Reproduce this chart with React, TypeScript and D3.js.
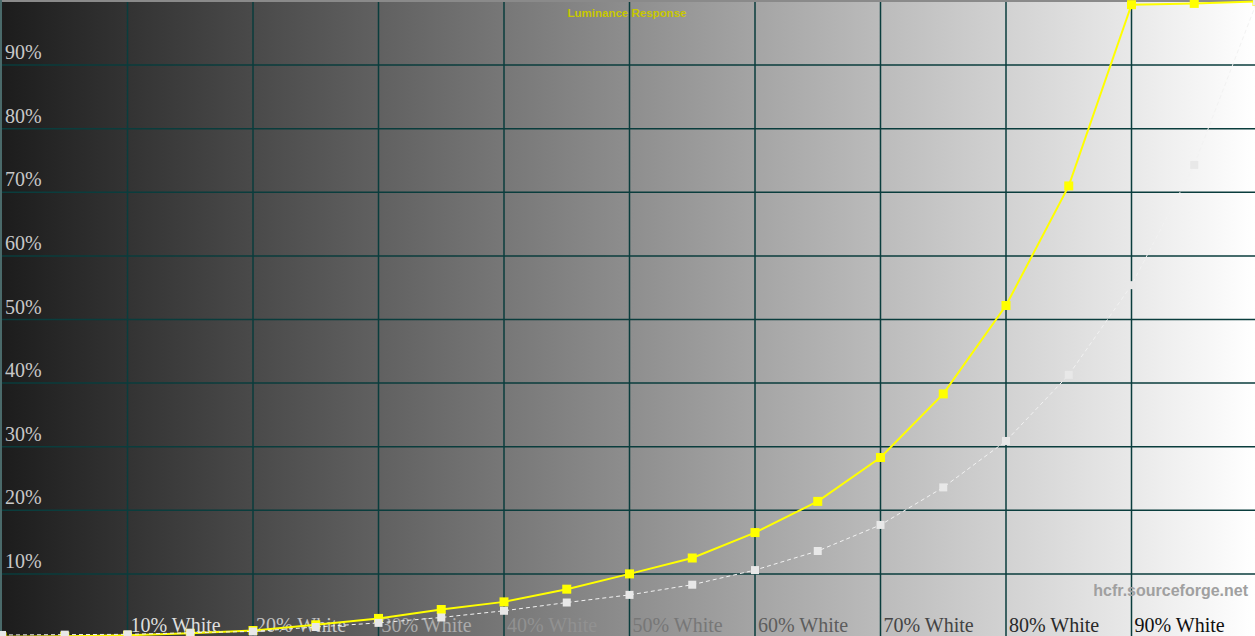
import { useEffect, useRef } from "react";
import * as d3 from "d3";

// stimulus levels (% white)
const levels = [0, 5, 10, 15, 20, 25, 30, 35, 40, 45, 50, 55, 60, 65, 70, 75, 80, 85, 90, 95, 100];

// measured luminance (%) - yellow curve
const measured = [0.1, 0.2, 0.35, 0.65, 1.1, 2.0, 3.0, 4.4, 5.6, 7.6, 10.0, 12.5, 16.5, 21.4, 28.3, 38.3, 52.2, 71.0, 99.5, 99.7, 100];

// reference luminance (%) - dotted white curve
const reference = [0.4, 0.45, 0.5, 0.75, 0.95, 1.65, 2.3, 3.15, 4.2, 5.5, 6.7, 8.3, 10.6, 13.6, 17.7, 23.6, 30.9, 41.3, 55.4, 74.3, 100];

const yTicks = [10, 20, 30, 40, 50, 60, 70, 80, 90];
const xTicks = [10, 20, 30, 40, 50, 60, 70, 80, 90];
const xTickLabels = ["10% White", "20% White", "30% White", "40% White", "50% White", "60% White", "70% White", "80% White", "90% White"];

export default function App() {
  const svgRef = useRef<SVGSVGElement | null>(null);

  useEffect(() => {
    const width = 1255;
    const height = 636;

    const x = d3.scaleLinear().domain([0, 100]).range([2, 1257]);
    const y = d3.scaleLinear().domain([0, 100]).range([637.5, 1.5]);

    const svg = d3.select(svgRef.current).attr("width", width).attr("height", height);
    svg.selectAll("*").remove();

    // background gradient dark -> white
    const defs = svg.append("defs");
    const grad = defs
      .append("linearGradient")
      .attr("id", "bg")
      .attr("x1", "0%")
      .attr("x2", "100%")
      .attr("y1", "0%")
      .attr("y2", "0%");
    grad.append("stop").attr("offset", "0%").attr("stop-color", "#1c1c1c");
    grad.append("stop").attr("offset", "100%").attr("stop-color", "#ffffff");

    svg.append("rect").attr("x", 0).attr("y", 0).attr("width", width).attr("height", height).attr("fill", "url(#bg)");

    // grid
    const grid = svg.append("g").attr("stroke", "#0a3d3d").attr("stroke-width", 1.5);
    grid
      .selectAll("line.v")
      .data(xTicks)
      .enter()
      .append("line")
      .attr("x1", (d) => x(d))
      .attr("x2", (d) => x(d))
      .attr("y1", 0)
      .attr("y2", height);
    grid
      .selectAll("line.h")
      .data(yTicks)
      .enter()
      .append("line")
      .attr("x1", 0)
      .attr("x2", width)
      .attr("y1", (d) => y(d))
      .attr("y2", (d) => y(d));

    // frame
    svg.append("line").attr("x1", 0).attr("x2", width).attr("y1", 1).attr("y2", 1).attr("stroke", "#8a8a8a").attr("stroke-width", 2);
    svg.append("line").attr("x1", 1).attr("x2", 1).attr("y1", 0).attr("y2", height).attr("stroke", "#4a6a6a").attr("stroke-width", 2);

    // y labels
    svg
      .append("g")
      .selectAll("text")
      .data(yTicks)
      .enter()
      .append("text")
      .attr("x", 5)
      .attr("y", (d) => y(d) - 6)
      .attr("font-family", "Liberation Serif, serif")
      .attr("font-size", 20)
      .attr("fill", "#c8c8c8")
      .text((d) => `${d}%`);

    // x labels, coloured darker as the background gets lighter
    const labelColor = d3.scaleLinear<string>().domain([10, 90]).range(["#dedede", "#101010"]);
    svg
      .append("g")
      .selectAll("text")
      .data(xTicks)
      .enter()
      .append("text")
      .attr("x", (d) => x(d) + 3)
      .attr("y", 632)
      .attr("font-family", "Liberation Serif, serif")
      .attr("font-size", 20)
      .attr("fill", (d) => labelColor(d))
      .text((_, i) => xTickLabels[i]);

    // title + watermark
    svg
      .append("text")
      .attr("x", 627)
      .attr("y", 17)
      .attr("text-anchor", "middle")
      .attr("font-family", "Liberation Sans, Arial, sans-serif")
      .attr("font-weight", "bold")
      .attr("font-size", 11.5)
      .attr("fill", "#c8c800")
      .text("Luminance Response");
    svg
      .append("text")
      .attr("x", 1248)
      .attr("y", 596)
      .attr("text-anchor", "end")
      .attr("font-family", "Liberation Sans, Arial, sans-serif")
      .attr("font-weight", "bold")
      .attr("font-size", 16)
      .attr("fill", "#a0a0a0")
      .text("hcfr.sourceforge.net");

    const line = d3
      .line<number>()
      .x((_, i) => x(levels[i]))
      .y((d) => y(d));

    // measured curve
    svg
      .append("path")
      .attr("d", line(measured))
      .attr("fill", "none")
      .attr("stroke", "#ffff00")
      .attr("stroke-width", 2);
    svg
      .append("g")
      .selectAll("rect")
      .data(measured)
      .enter()
      .append("rect")
      .attr("x", (_, i) => x(levels[i]) - 4.5)
      .attr("y", (d) => y(d) - 4.5)
      .attr("width", 9)
      .attr("height", 9)
      .attr("fill", "#ffff00");

    // reference curve, drawn over the measured one
    svg
      .append("path")
      .attr("d", line(reference))
      .attr("fill", "none")
      .attr("stroke", "#f2f2f2")
      .attr("stroke-width", 1)
      .attr("stroke-dasharray", "4,3");
    svg
      .append("g")
      .selectAll("rect")
      .data(reference)
      .enter()
      .append("rect")
      .attr("x", (_, i) => x(levels[i]) - 4)
      .attr("y", (d) => y(d) - 4)
      .attr("width", 8)
      .attr("height", 8)
      .attr("fill", "#e8e8e8");

    return () => {
      svg.selectAll("*").remove();
    };
  }, []);

  return (
    <div style={{ position: "absolute", left: 0, top: 0 }}>
      <svg ref={svgRef} style={{ display: "block" }} />
    </div>
  );
}
